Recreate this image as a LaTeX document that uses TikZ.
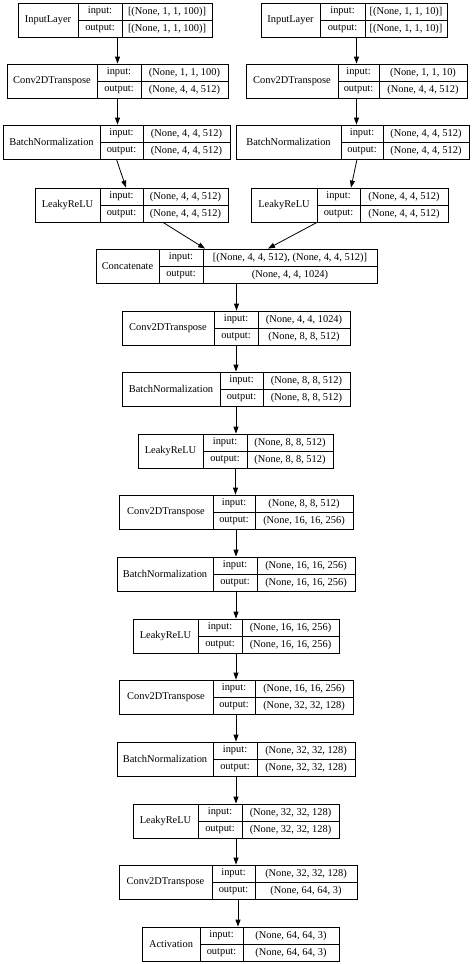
\documentclass[tikz,border=0pt]{standalone}
\usepackage{fontspec}
\setmainfont{Liberation Serif}
\usetikzlibrary{arrows.meta}
\tikzset{
  lbox/.style={draw=black, line width=0.8pt, inner sep=0pt, rectangle},
  cell/.style={draw=black, line width=0.8pt},
  txt/.style={inner sep=0pt, font=\fontsize{10.4}{12}\selectfont},
  arr/.style={draw=black, line width=0.8pt, -{Triangle[length=7pt,width=5pt]}}
}
% id x1 x2 x3 x4 ytop name in out
\newcommand\kerasLayer[9]{%
  \node[lbox, minimum width={(#5-#2)*1pt}, minimum height=34pt] (#1) at ({(#2+#5)/2},{#6+17}) {};
  \draw[cell] (#3,#6) -- (#3,#6+34);
  \draw[cell] (#4,#6) -- (#4,#6+34);
  \draw[cell] (#3,#6+17) -- (#5,#6+17);
  \node[txt] (#1-name) at ({(#2+#3)/2},{#6+17}) {#7};
  \node[txt] (#1-il) at ({(#3+#4)/2},{#6+8.5}) {input:};
  \node[txt] (#1-ol) at ({(#3+#4)/2},{#6+25.5}) {output:};
  \node[txt] (#1-iv) at ({(#4+#5)/2},{#6+8.5}) {#8};
  \node[txt] (#1-ov) at ({(#4+#5)/2},{#6+25.5}) {#9};
}
\begin{document}
\begin{tikzpicture}[x=1pt,y=-1pt]
\useasboundingbox (0,0) rectangle (474,964);
\kerasLayer{inL}{18}{78}{122}{212}{3}{InputLayer}{[(None, 1, 1, 100)]}{[(None, 1, 1, 100)]}
\kerasLayer{inR}{261}{320}{365}{447}{3}{InputLayer}{[(None, 1, 1, 10)]}{[(None, 1, 1, 10)]}
\kerasLayer{cvL}{7}{97}{141}{228}{64}{Conv2DTranspose}{(None, 1, 1, 100)}{(None, 4, 4, 512)}
\kerasLayer{cvR}{246}{338}{379}{467}{64}{Conv2DTranspose}{(None, 1, 1, 10)}{(None, 4, 4, 512)}
\kerasLayer{bnL}{3}{100}{143}{230}{125}{BatchNormalization}{(None, 4, 4, 512)}{(None, 4, 4, 512)}
\kerasLayer{bnR}{236}{341}{383}{469}{125}{BatchNormalization}{(None, 4, 4, 512)}{(None, 4, 4, 512)}
\kerasLayer{lrL}{35}{100}{143}{228}{188}{LeakyReLU}{(None, 4, 4, 512)}{(None, 4, 4, 512)}
\kerasLayer{lrR}{251}{317}{360}{448}{188}{LeakyReLU}{(None, 4, 4, 512)}{(None, 4, 4, 512)}
\kerasLayer{cat}{96}{159}{203}{377}{249}{Concatenate}{[(None, 4, 4, 512), (None, 4, 4, 512)]}{(None, 4, 4, 1024)}
\kerasLayer{cv1}{122}{214}{258}{350}{311}{Conv2DTranspose}{(None, 4, 4, 1024)}{(None, 8, 8, 512)}
\kerasLayer{bn1}{122}{220}{263}{350}{372}{BatchNormalization}{(None, 8, 8, 512)}{(None, 8, 8, 512)}
\kerasLayer{lr1}{138}{203}{247}{333}{434}{LeakyReLU}{(None, 8, 8, 512)}{(None, 8, 8, 512)}
\kerasLayer{cv2}{119}{213}{255}{353}{495}{Conv2DTranspose}{(None, 8, 8, 512)}{(None, 16, 16, 256)}
\kerasLayer{bn2}{117}{213}{257}{355}{557}{BatchNormalization}{(None, 16, 16, 256)}{(None, 16, 16, 256)}
\kerasLayer{lr2}{133}{198}{242}{339}{619}{LeakyReLU}{(None, 16, 16, 256)}{(None, 16, 16, 256)}
\kerasLayer{cv3}{119}{213}{255}{353}{680}{Conv2DTranspose}{(None, 16, 16, 256)}{(None, 32, 32, 128)}
\kerasLayer{bn3}{117}{213}{257}{355}{742}{BatchNormalization}{(None, 32, 32, 128)}{(None, 32, 32, 128)}
\kerasLayer{lr3}{133}{198}{242}{339}{804}{LeakyReLU}{(None, 32, 32, 128)}{(None, 32, 32, 128)}
\kerasLayer{cv4}{119}{212}{255}{357}{865}{Conv2DTranspose}{(None, 32, 32, 128)}{(None, 64, 64, 3)}
\kerasLayer{act}{142}{200}{243}{339}{927}{Activation}{(None, 64, 64, 3)}{(None, 64, 64, 3)}
% left branch
\draw[arr] (inL.south -| cvL.north) -- (cvL.north);
\draw[arr] (cvL.south) -- (cvL.south |- bnL.north);
\draw[arr] (bnL.south) -- ([xshift=-5.5pt]lrL.north);
\draw[arr] ([xshift=31.5pt]lrL.south) -- ([xshift=-31.5pt]cat.north);
% right branch
\draw[arr] (inR.south -| cvR.north) -- (cvR.north);
\draw[arr] (cvR.south) -- (cvR.south |- bnR.north);
\draw[arr] ([xshift=4.5pt]bnR.south) -- ([xshift=1.5pt]lrR.north);
\draw[arr] ([xshift=-32.5pt]lrR.south) -- ([xshift=31.5pt]cat.north);
% main column
\draw[arr] (cat.south) -- (cat.south |- cv1.north);
\draw[arr] (cv1.south) -- (cv1.south |- bn1.north);
\draw[arr] (bn1.south) -- (bn1.south |- lr1.north);
\draw[arr] (lr1.south) -- (lr1.south |- cv2.north);
\draw[arr] (cv2.south) -- (cv2.south |- bn2.north);
\draw[arr] (bn2.south) -- (bn2.south |- lr2.north);
\draw[arr] (lr2.south) -- (lr2.south |- cv3.north);
\draw[arr] (cv3.south) -- (cv3.south |- bn3.north);
\draw[arr] (bn3.south) -- (bn3.south |- lr3.north);
\draw[arr] (lr3.south) -- (lr3.south |- cv4.north);
\draw[arr] (cv4.south) -- (cv4.south |- act.north);
\end{tikzpicture}
\end{document}
